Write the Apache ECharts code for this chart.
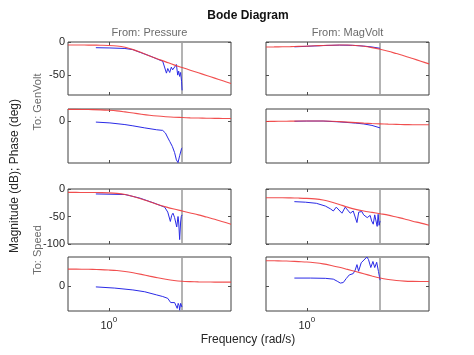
<!DOCTYPE html>
<html>
<head>
<meta charset="utf-8">
<script src="https://cdn.jsdelivr.net/npm/echarts@6/dist/echarts.min.js"></script>
<style>html,body{margin:0;padding:0;background:#fff}#c{width:474px;height:355px}</style>
</head>
<body>
<div id="c"></div>
<script>
// x values are log10 of frequency (rad/s)
const redLogFreq = [-0.25,-0.2,-0.15,-0.1,-0.05,0,0.05,0.1,0.15,0.2,0.25,0.3,0.35,0.4,0.45,0.5,0.55,0.6,0.65,0.7,0.75];
const nyquistLogFreq = 0.45;
const xTickValues = [0];

// Model (red) responses
const redMagGenPress = [-4.5,-4.5,-4.6,-4.7,-4.9,-5.2,-6,-8,-11.5,-16,-21,-25.5,-30,-34.5,-38.5,-42.5,-46.5,-50.5,-54.5,-58.5,-62.5];
const redMagGenMag   = [-7.5,-7.4,-7.2,-7,-6.6,-6.2,-5.7,-5.2,-4.8,-4.6,-4.6,-5.2,-6.5,-8.5,-11,-14,-17.5,-21,-25,-29,-33];
const redPhGenPress  = [58,58,57.5,57,56,54,51,46,40.5,35,30,26,23,20.5,19,17.5,16.5,15.5,15,14.5,14];
const redPhGenMag    = [0,0.5,1,1.5,2,2.5,2.5,2,1,-1,-3,-5.5,-8,-10,-11.5,-13,-14,-15,-15.5,-16,-16];
const redMagSpdPress = [-6.2,-6.2,-6.3,-6.4,-6.6,-7,-8,-10,-13.5,-18,-23,-28,-32.5,-36.5,-40,-43.5,-47,-51,-55,-59.5,-64];
const redMagSpdMag   = [-16,-16,-16,-16.2,-16.5,-17,-18,-20,-23.5,-28,-33,-37,-40,-42.5,-45,-47.5,-51,-54.5,-58.5,-62,-66];
const redPhSpdPress  = [64,64,63.5,63,62,60.5,58.5,55,50,44,37.5,31,25.5,21,18,16.5,15.5,15,14.7,14.5,14.5];
const redPhSpdMag    = [96,95.5,95,94,92.5,91,88,84,78,71,63,55,46.5,38,30,24.5,20.5,18.5,17.5,17,17];

// Measured (blue) responses
const blueMagGenPressX = [-0.079,0.007,0.099,0.148,0.196,0.252,0.300,0.331,0.343,0.354,0.362,0.374,0.384,0.392,0.404,0.415,0.423,0.429,0.435,0.441,0.447,0.450];
const blueMagGenPressY = [-8.6,-9,-9.8,-11.5,-16,-21,-26,-29,-31,-47,-40,-46,-38,-42,-39,-34,-50,-44,-52,-46,-60,-73];
const blueMagGenMagX = [-0.076,0,0.1,0.2,0.28,0.35,0.4,0.45];
const blueMagGenMagY = [-7.3,-6.5,-5.4,-4.7,-5,-6.2,-7.5,-9.5];
const bluePhGenPressX = [-0.079,0.007,0.099,0.148,0.221,0.294,0.331,0.348,0.360,0.374,0.390,0.404,0.415,0.425,0.435,0.447,0.450];
const bluePhGenPressY = [-3,-7,-15,-21,-31,-40,-43,-56,-75,-96,-120,-150,-185,-198,-165,-130,-127];
const bluePhGenMagX = [-0.076,0,0.1,0.2,0.3,0.35,0.4,0.45];
const bluePhGenMagY = [1,2,2,-2,-8,-12,-19,-31];
const blueMagSpdPressX = [-0.079,0.099,0.190,0.282,0.325,0.343,0.362,0.378,0.386,0.394,0.404,0.417,0.425,0.429,0.435,0.441,0.445,0.450];
const blueMagSpdPressY = [-9,-10,-16.5,-26,-31,-33,-42,-59,-48,-44,-52,-69,-50,-60,-92,-60,-50,-47];
const blueMagSpdMagX = [-0.076,-0.008,0.059,0.114,0.145,0.163,0.181,0.193,0.216,0.236,0.248,0.267,0.285,0.308,0.319,0.338,0.349,0.359,0.371,0.389,0.398,0.408,0.417,0.426,0.432,0.438,0.444,0.450];
const blueMagSpdMagY = [-23,-24,-26,-31,-36,-40,-33,-32,-44,-33,-36,-44,-40,-61,-42,-41,-47,-45,-52,-48,-58,-64,-47,-50,-68,-46,-66,-58];
const bluePhSpdPressX = [-0.079,0.037,0.148,0.221,0.294,0.331,0.362,0.374,0.380,0.404,0.414,0.420,0.426,0.432,0.435,0.441,0.449];
const bluePhSpdPressY = [-3.5,-8,-15,-22,-34,-40,-47,-50,-63,-63,-62,-85,-66,-75,-92,-66,-80];
const bluePhSpdMagX = [-0.076,0.022,0.114,0.163,0.187,0.206,0.224,0.242,0.261,0.285,0.297,0.308,0.318,0.334,0.346,0.369,0.379,0.383,0.393,0.406,0.417,0.429,0.440,0.446,0.450];
const bluePhSpdMagY = [30,30,29,26,18,11,13,28,42,47,60,81,56,88,95,110,100,106,70,93,70,90,55,35,22];

// Y axis ranges and ticks per row
const rowRanges = [[-80,0],[-200,60],[-100,0],[-95,110]];
const rowTicks = [[0,-50],[0],[0,-50,-100],[0]];

const panels = [
  {row:0,col:0,red:redMagGenPress,bx:blueMagGenPressX,by:blueMagGenPressY},
  {row:0,col:1,red:redMagGenMag,bx:blueMagGenMagX,by:blueMagGenMagY},
  {row:1,col:0,red:redPhGenPress,bx:bluePhGenPressX,by:bluePhGenPressY},
  {row:1,col:1,red:redPhGenMag,bx:bluePhGenMagX,by:bluePhGenMagY},
  {row:2,col:0,red:redMagSpdPress,bx:blueMagSpdPressX,by:blueMagSpdPressY},
  {row:2,col:1,red:redMagSpdMag,bx:blueMagSpdMagX,by:blueMagSpdMagY},
  {row:3,col:0,red:redPhSpdPress,bx:bluePhSpdPressX,by:bluePhSpdPressY},
  {row:3,col:1,red:redPhSpdMag,bx:bluePhSpdMagX,by:bluePhSpdMagY}
];

const rowGeom = [[42,53],[109,54],[189,55],[257,54]];
const colGeom = [68,266];
const colW = 163;
const FONT = 'Liberation Sans, Arial, Helvetica, sans-serif';
const tickColor = '#4d4d4d';

const grids=[], xAxes=[], yAxes=[], series=[];
panels.forEach((p,i)=>{
  grids.push({left:colGeom[p.col], top:rowGeom[p.row][0], width:colW, height:rowGeom[p.row][1],
    show:true, borderColor:'#404040', borderWidth:1, backgroundColor:'transparent', containLabel:false});
  const isBottom = p.row===3;
  const xBase = {type:'value', gridIndex:i, min:-0.25, max:0.75,
    axisLine:{show:false, onZero:false}, splitLine:{show:false},
    axisTick:{inside:true, length:3, customValues:xTickValues, lineStyle:{color:tickColor}}};
  xAxes.push(Object.assign({}, xBase, {position:'bottom',
    axisLabel:{show:isBottom, customValues:xTickValues, margin:5,
      formatter:v=>'{b|10}{s|'+Math.round(v)+'}',
      rich:{b:{fontSize:11,fontFamily:FONT,color:'#262626',verticalAlign:'bottom',lineHeight:15},
            s:{fontSize:8,fontFamily:FONT,color:'#262626',verticalAlign:'top',lineHeight:15}}}}));
  xAxes.push(Object.assign({}, xBase, {position:'top', axisLabel:{show:false}}));
  const yr = rowRanges[p.row], yt = rowTicks[p.row];
  const yBase = {type:'value', gridIndex:i, min:yr[0], max:yr[1],
    axisLine:{show:false, onZero:false}, splitLine:{show:false},
    axisTick:{inside:true, length:3, customValues:yt, lineStyle:{color:tickColor}}};
  yAxes.push(Object.assign({}, yBase, {position:'left',
    axisLabel:{show:p.col===0, customValues:yt, margin:3, fontSize:11, fontFamily:FONT, color:'#262626'}}));
  yAxes.push(Object.assign({}, yBase, {position:'right', axisLabel:{show:false}}));
  series.push({type:'line', xAxisIndex:2*i, yAxisIndex:2*i, showSymbol:false, symbol:'none',
    data:p.bx.map((x,k)=>[x,p.by[k]]), lineStyle:{color:'#2a2ae6', width:1}, z:3, silent:true});
  series.push({type:'line', xAxisIndex:2*i, yAxisIndex:2*i, showSymbol:false, symbol:'none', smooth:0.3,
    data:redLogFreq.map((x,k)=>[x,p.red[k]]), lineStyle:{color:'#f03c3c', width:1.1, opacity:0.9}, z:4, silent:true,
    markLine:{silent:true, symbol:'none', label:{show:false}, animation:false,
      lineStyle:{color:'#a0a0a0', width:1.6, type:'solid'}, data:[{xAxis:nyquistLogFreq}], z:2}});
});

const txt = (x,y,text,size,color,weight,rot)=>({type:'text', x:x, y:y, rotation:rot||0,
  style:{text:text, fontSize:size, fontFamily:FONT, fill:color, fontWeight:weight||'normal', textAlign:'center', textVerticalAlign:'middle'}});

const chart = echarts.init(document.getElementById('c'), null, {renderer:'canvas'});
chart.setOption({
  animation:false,
  backgroundColor:'#ffffff',
  grid:grids, xAxis:xAxes, yAxis:yAxes, series:series,
  graphic:[
    txt(248,16,'Bode Diagram',12,'#111','bold'),
    txt(149.5,33,'From: Pressure',11,'#6b6b6b'),
    txt(347.5,33,'From: MagVolt',11,'#6b6b6b'),
    txt(38,102,'To: GenVolt',11,'#6b6b6b','normal',Math.PI/2),
    txt(38,250,'To: Speed',11,'#6b6b6b','normal',Math.PI/2),
    txt(15,176,'Magnitude (dB); Phase (deg)',12,'#262626','normal',Math.PI/2),
    txt(248,340,'Frequency (rad/s)',12,'#262626')
  ]
});
</script>
</body>
</html>
